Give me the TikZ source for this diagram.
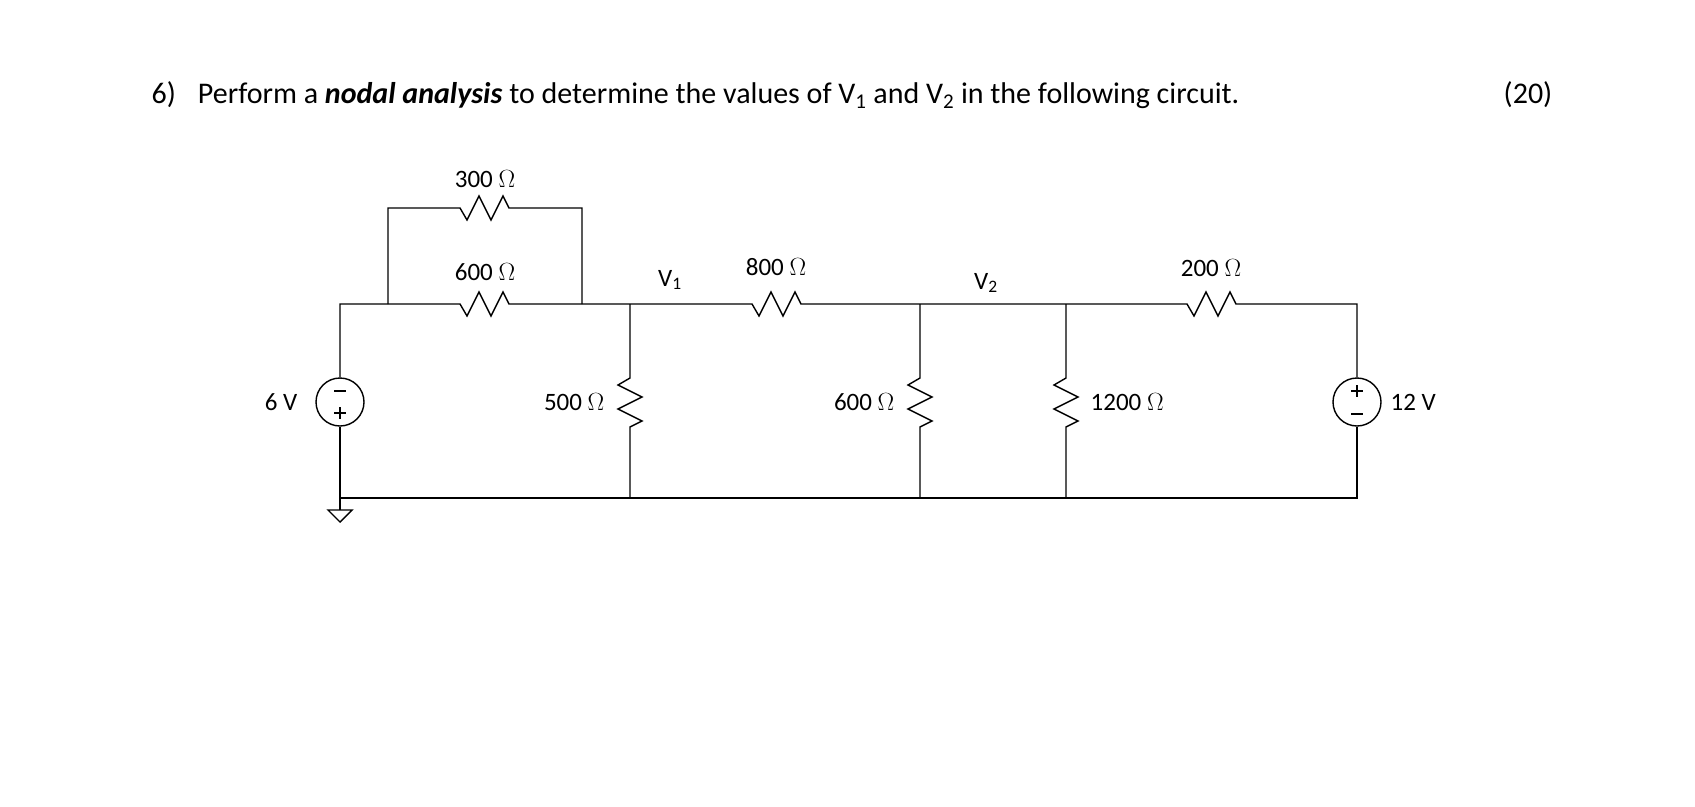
\documentclass[tikz,border=0pt]{standalone}
\usepackage{fontspec}
\setmainfont{Carlito}
\begin{document}
\begin{tikzpicture}[x=1pt,y=-1pt,line width=1.4pt,
  lbl/.style={font=\fontsize{25}{25}\selectfont,inner sep=0pt},
  src/.style={circle,draw,minimum size=48pt,inner sep=0pt}]
\useasboundingbox (0,0) rectangle (1695,806);
\node[anchor=west,font=\fontsize{30}{30}\selectfont,inner sep=0pt] (t) at (151,95) {6)\hspace{22pt}Perform a \textbf{\textit{nodal analysis}} to determine the values of V\textsubscript{1} and V\textsubscript{2} in the following circuit.};
\node[font=\fontsize{30}{30}\selectfont,inner sep=0pt] (pts) at (1528,95) {(20)};
% coordinates
\coordinate (a) at (340,304); \coordinate (b) at (388,304); \coordinate (c) at (582,304);
\coordinate (n1) at (630,304); \coordinate (n2) at (920,304); \coordinate (n3) at (1066,304);
\coordinate (e) at (1357,304);
\coordinate (ga) at (340,498); \coordinate (g1) at (630,498); \coordinate (g2) at (920,498);
\coordinate (g3) at (1066,498); \coordinate (ge) at (1357,498);
\node[src] (s1) at (340,402) {};
\node[src] (s2) at (1357,402) {};
% wires
\draw (s1.north) -- (a) -- (460,304) -- ++(7,12) -- ++(12,-24) -- ++(12,24) -- ++(12,-24) -- ++(6,12) -- (c) -- (n1)
 -- (752,304) -- ++(7,12) -- ++(12,-24) -- ++(12,24) -- ++(12,-24) -- ++(6,12) -- (n2) -- (n3)
 -- (1187,304) -- ++(7,12) -- ++(12,-24) -- ++(12,24) -- ++(12,-24) -- ++(6,12) -- (e) -- (s2.north);
\draw (b) -- (388,208) -- (460,208) -- ++(7,12) -- ++(12,-24) -- ++(12,24) -- ++(12,-24) -- ++(6,12) -- (582,208) -- (c);
\draw (s1.south) -- (ga) -- (ge) -- (s2.south);
\foreach \x/\g in {630/g1,920/g2,1066/g3}{
  \draw (\x,304) -- (\x,378) -- ++(-12,7) -- ++(24,12) -- ++(-24,12) -- ++(24,12) -- ++(-12,6) -- (\g);
}
% ground
\draw (ga) -- (340,510);
\draw (328,510) -- (352,510) -- (340,522) -- cycle;
% source signs
\draw[line width=1.1pt] (334,391) -- (346,391);
\draw[line width=1.1pt] (334,413) -- (346,413) (340,407) -- (340,419);
\draw[line width=1.1pt] (1351,391) -- (1363,391) (1357,385) -- (1357,397);
\draw[line width=1.1pt] (1351,414) -- (1363,414);
% labels
\node[lbl] (l300) at (485,179) {300 $\Omega$};
\node[lbl] (l600a) at (485,272) {600 $\Omega$};
\node[lbl] (l800) at (776,267) {800 $\Omega$};
\node[lbl] (l200) at (1211,268) {200 $\Omega$};
\node[lbl] (lv1) at (670,280) {V\textsubscript{1}};
\node[lbl] (lv2) at (986,283) {V\textsubscript{2}};
\node[lbl,anchor=east] (l500) at (605,402) {500 $\Omega$};
\node[lbl,anchor=east] (l600b) at (895,402) {600 $\Omega$};
\node[lbl,anchor=west] (l1200) at (1090,402) {1200 $\Omega$};
\node[lbl,anchor=east] (l6) at (298,402) {6 V};
\node[lbl,anchor=west] (l12) at (1390,402) {12 V};
\end{tikzpicture}
\end{document}
